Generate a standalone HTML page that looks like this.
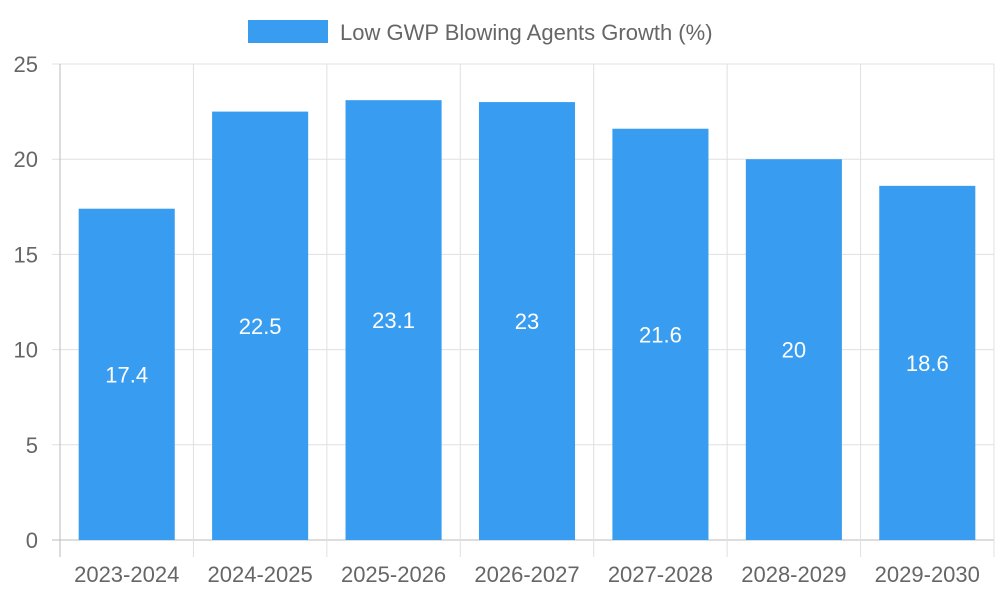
<!DOCTYPE html>
<html><head><meta charset="utf-8"><style>
body{margin:0;background:#fff;}
svg{display:block;font-family:"Liberation Sans",sans-serif;}
</style></head><body>
<svg id="chart" width="1000" height="600">
<g id="grid"></g>
<g id="bars"></g>
<g id="axes"></g>
<g>
<rect x="248" y="20" width="80" height="23" fill="#389cf0"/>
<text x="340" y="40" font-size="22" fill="#666">Low GWP Blowing Agents Growth (%)</text>
</g>
</svg>
<script>
const categories=["2023-2024","2024-2025","2025-2026","2026-2027","2027-2028","2028-2029","2029-2030"];
const values=[17.4,22.5,23.1,23,21.6,20,18.6];
const yTicks=[0,5,10,15,20,25];
const NS="http://www.w3.org/2000/svg";
const L=60,R=994,T=64,B=540,yMax=25;
const band=(R-L)/categories.length;
const y=v=>B-(v/yMax)*(B-T);
const xc=i=>L+band*(i+0.5);
function mk(tag,attrs,parent,txt){const e=document.createElementNS(NS,tag);for(const k in attrs)e.setAttribute(k,attrs[k]);if(txt!==undefined)e.textContent=txt;parent.appendChild(e);return e;}
const grid=document.getElementById('grid'),bars=document.getElementById('bars'),axes=document.getElementById('axes');
yTicks.forEach(t=>{
 const l=mk('line',{x1:52,x2:R,y1:y(t),y2:y(t),stroke:t===0?'#bbb':'#e0e0e0','stroke-width':1},grid);
 
 
 const tx=mk('text',{x:38,y:y(t)+8,'text-anchor':'end','font-size':22,fill:'#666'},axes,String(t));
 
 
});
for(let i=0;i<=categories.length;i++){
 const x=L+band*i;
 const l=mk('line',{x1:x,x2:x,y1:T,y2:557,stroke:i===0?'#bbb':'#e0e0e0','stroke-width':1},grid);
 
 
}
categories.forEach((c,i)=>{
 const w=band*0.72;
 const r=mk('rect',{x:xc(i)-w/2,y:y(values[i]),width:w,height:B-y(values[i]),fill:'#389cf0'},bars);
 
 
 const v=mk('text',{x:xc(i),y:(y(values[i])+B)/2+8,'text-anchor':'middle','font-size':22,fill:'#fff'},bars,String(values[i]));
 
 
 const t=mk('text',{x:xc(i),y:582,'text-anchor':'middle','font-size':22,fill:'#666'},axes,c);
 
 
});
</script>
</body></html>
